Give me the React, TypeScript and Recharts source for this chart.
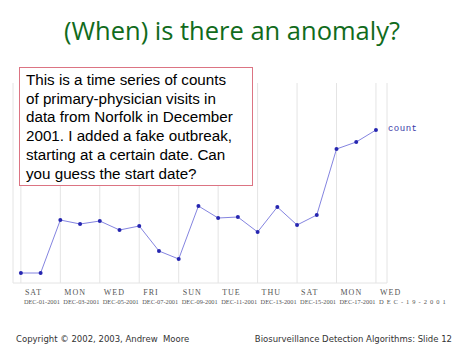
import { LineChart, Line, XAxis, YAxis, CartesianGrid } from 'recharts'

// Daily counts of primary-physician visits, Norfolk, December 2001
const days = [
  'DEC-01-2001', 'DEC-02-2001', 'DEC-03-2001', 'DEC-04-2001', 'DEC-05-2001',
  'DEC-06-2001', 'DEC-07-2001', 'DEC-08-2001', 'DEC-09-2001', 'DEC-10-2001',
  'DEC-11-2001', 'DEC-12-2001', 'DEC-13-2001', 'DEC-14-2001', 'DEC-15-2001',
  'DEC-16-2001', 'DEC-17-2001', 'DEC-18-2001', 'DEC-19-2001',
]
const counts = [10, 10, 63, 59, 62, 53, 57, 32, 24, 77, 65, 66, 51, 76, 58, 68, 134, 141, 153]

// tick labels, every other day
const tickIdx = [0, 2, 4, 6, 8, 10, 12, 14, 16, 18]
const tickDays = ['SAT', 'MON', 'WED', 'FRI', 'SUN', 'TUE', 'THU', 'SAT', 'MON', 'WED']
const tickDates = [
  'DEC-01-2001', 'DEC-03-2001', 'DEC-05-2001', 'DEC-07-2001', 'DEC-09-2001',
  'DEC-11-2001', 'DEC-13-2001', 'DEC-15-2001', 'DEC-17-2001', 'DEC-19-2001',
]

const noteLines = [
  'This is a time series of counts',
  'of primary-physician visits in',
  'data from Norfolk in December',
  '2001. I added a fake outbreak,',
  'starting at a certain date. Can',
  'you guess the start date?',
]

const data = days.map((d, i) => ({ i, day: d, count: counts[i] }))

const tickFont = '"Liberation Serif", serif'

function DayTick(props: any) {
  const { x, y, payload } = props
  const k = tickIdx.indexOf(payload.value)
  if (k < 0) return null
  const last = k === tickIdx.length - 1
  return (
    <g>
      <text x={x + 4} y={y + 4} fontSize={8} fontFamily={tickFont} fill="#555" letterSpacing={1}>
        {tickDays[k]}
      </text>
      {/* date labels sit shoulder to shoulder, as in the original plot */}
      {last ? (
        <text x={x + 3} y={y + 13} fontSize={6.5} fontFamily={tickFont} fill="#555" letterSpacing={3}>
          {tickDates[k]}
        </text>
      ) : (
        <text
          x={x + 3} y={y + 13} fontSize={6.5} fontFamily={tickFont} fill="#555"
          textLength={36} lengthAdjust="spacingAndGlyphs"
        >
          {tickDates[k]}
        </text>
      )}
    </g>
  )
}

function EndLabel(props: any) {
  const { x, y, index } = props
  if (index !== counts.length - 1) return null
  return (
    <text x={x + 12} y={y + 1} fontSize={9} fontFamily='"Liberation Mono", monospace' fill="#3a3aa8" letterSpacing={0.5}>
      count
    </text>
  )
}

export default function App() {
  return (
    <div style={{ position: 'fixed', left: 0, top: 0, width: 474, height: 355, background: '#fff', overflow: 'hidden' }}>
      <div
        style={{
          position: 'absolute', left: 0, top: 13, width: 464, textAlign: 'center',
          fontFamily: '"Open Sans", sans-serif', fontSize: 25.5, color: '#116b1c',
        }}
      >
        (When) is there an anomaly?
      </div>

      <div style={{ position: 'absolute', left: 0, top: 0 }}>
        <LineChart width={474} height={355} data={data} margin={{ top: 83, right: 87, bottom: 42, left: 13 }}>
          <CartesianGrid horizontal={false} stroke="#e4e4e4" />
          <XAxis
            dataKey="i"
            type="number"
            domain={[-0.4, 18.56]}
            ticks={tickIdx}
            interval={0}
            height={30}
            tickLine={false}
            axisLine={{ stroke: '#e4e4e4' }}
            tick={<DayTick />}
          />
          <YAxis hide domain={[0, 200]} />
          <Line
            dataKey="count"
            stroke="#8484e0"
            strokeWidth={1}
            dot={{ r: 2, fill: '#2626b0', stroke: 'none' }}
            isAnimationActive={false}
            label={<EndLabel />}
          />
        </LineChart>
      </div>

      <div
        style={{
          position: 'absolute', left: 19, top: 67, width: 234, height: 119, boxSizing: 'border-box',
          border: '1px solid #dc7483', background: '#fff', padding: '3px 0 0 6px',
          fontFamily: '"Liberation Sans", Arial, sans-serif', fontSize: 15.2, lineHeight: '18.7px', color: '#000',
          whiteSpace: 'pre',
        }}
      >
        {noteLines.map((l, i) => <div key={i}>{l}</div>)}
      </div>

      <div style={{ position: 'absolute', left: 16, top: 334, fontFamily: '"DejaVu Sans", sans-serif', fontSize: 8.5, color: '#333', whiteSpace: 'pre' }}>
        Copyright © 2002, 2003, Andrew  Moore
      </div>
      <div style={{ position: 'absolute', right: 22, top: 334, fontFamily: '"DejaVu Sans", sans-serif', fontSize: 8.5, color: '#333' }}>
        Biosurveillance Detection Algorithms: Slide 12
      </div>
    </div>
  )
}
